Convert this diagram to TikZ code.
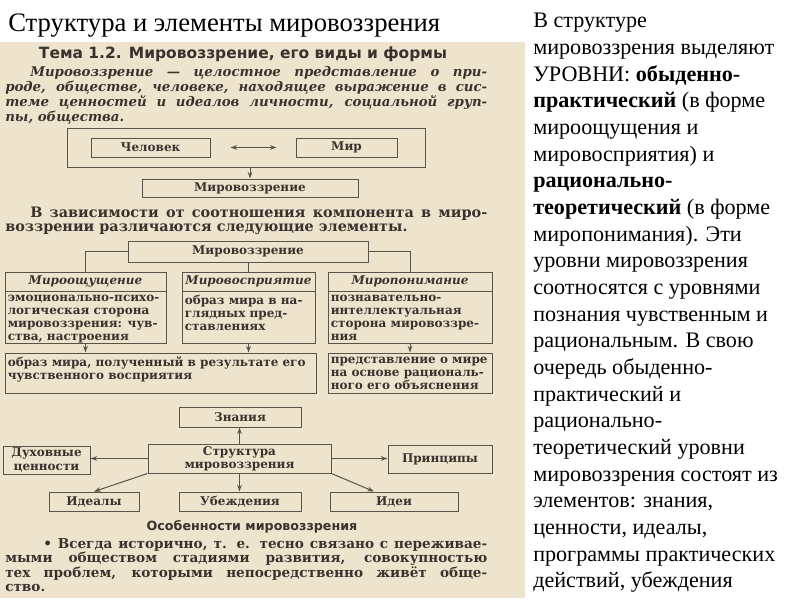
\documentclass[tikz,border=0pt]{standalone}
\usepackage{fontspec}
\setmainfont{Liberation Serif}
\newfontfamily\scanserif{DejaVu Serif}
\newfontfamily\scansans{DejaVu Sans}
\usetikzlibrary{positioning, arrows.meta}
\newdimen\px \px=0.75pt
\definecolor{paper}{RGB}{238, 228, 206}
\definecolor{ink}{RGB}{58, 50, 44}
\definecolor{rule}{RGB}{92, 82, 74}
\tikzstyle{arrow} = [rule, -{Stealth[length=5pt, width=3.5pt]}, line width=0.75pt]
\tikzstyle{darrow} = [rule, {Stealth[length=5pt, width=3.5pt]}-{Stealth[length=5pt, width=3.5pt]}, line width=0.75pt]
\tikzstyle{connector} = [rule, -, line width=0.75pt]
\tikzstyle{scantext} = [anchor=north west, inner sep=0, text width=482\px, align=justify, text=ink]
\tikzstyle{bodytext} = [anchor=north west, inner sep=0, align=left, text=ink,
  font=\scanserif\bfseries\fontsize{9pt}{9.75pt}\selectfont]
\newcommand{\tikzboxnode}[2]{\node[
  draw=rule, line width=0.75pt, rectangle, minimum width=#1\px, minimum height=#2\px, inner sep=0,
  align=center, text=ink, font=\scanserif\bfseries\fontsize{9pt}{10pt}\selectfont
]}

\begin{document}
\begin{tikzpicture}[x=0.75pt, y=-0.75pt]
    \useasboundingbox (0,0) rectangle (800,600);
    % page
    \fill[white] (0,0) rectangle (800,600);
    \fill[paper] (0,42) rectangle (525,598);

    % title and notes
    \node[anchor=base west, inner sep=0, font=\fontsize{20pt}{22pt}\selectfont] (title) at (8,31)
      {Структура и элементы мировоззрения};
    \node[anchor=north west, inner sep=0, align=left, font=\fontsize{16.6pt}{20pt}\selectfont] (levels) at (533,13)
      {В структуре\\
       мировоззрения выделяют\\
       УРОВНИ: \textbf{обыденно-}\\
       \textbf{практический} (в форме\\
       мироощущения и\\
       мировосприятия) и\\
       \textbf{рационально-}\\
       \textbf{теоретический} (в форме\\
       миропонимания). Эти\\
       уровни мировоззрения\\
       соотносятся с уровнями\\
       познания чувственным и\\
       рациональным. В свою\\
       очередь обыденно-\\
       практический и\\
       рационально-\\
       теоретический уровни\\
       мировоззрения состоят из\\
       элементов: знания,\\
       ценности, идеалы,\\
       программы практических\\
       действий, убеждения};

    % scan: definition
    \node[text=ink, font=\scansans\bfseries\fontsize{11.6pt}{13pt}\selectfont] (topic) at (243,54)
      {Тема 1.2. Мировоззрение, его виды и формы};
    \node[scantext, font=\scanserif\bfseries\itshape\fontsize{10pt}{11.25pt}\selectfont] (defn) at (5,66)
      {\hspace*{25\px}Мировоззрение — целостное представление о при-\linebreak
       роде, обществе, человеке, находящее выражение в сис-\linebreak
       теме ценностей и идеалов личности, социальной груп-\linebreak
       пы, общества.};

    % scan: man and world
    \tikzboxnode{358}{39} at (246,147.5) (pair)  {};
    \tikzboxnode{119}{19} at (150.5,147.5) (man) {Человек};
    \tikzboxnode{101}{19} at (346.5,147.5) (world) {Мир};
    \tikzboxnode{216}{18} at (250,188) (view) {Мировоззрение};
    \draw[darrow, shorten <=20\px, shorten >=19\px] (man) -- (world);
    \draw[arrow] (pair.south -| view.north) -- (view.north);

    % scan: components
    \node[scantext, font=\scanserif\bfseries\fontsize{10.8pt}{10pt}\selectfont] (intro) at (5,207)
      {\hspace*{25\px}В зависимости от соотношения компонента в миро-\linebreak
       воззрении различаются следующие элементы.};
    \tikzboxnode{240}{21} at (248,251.5) (view2) {Мировоззрение};
    \tikzboxnode{161}{19} at (85.5,281.5) (feelhead) {\itshape Мироощущение};
    \tikzboxnode{161}{52} at (85.5,317)   (feelbody) {};
    \tikzboxnode{133}{19} at (248.5,281.5) (perchead) {\itshape Мировосприятие};
    \tikzboxnode{133}{52} at (248.5,317)   (percbody) {};
    \tikzboxnode{164}{19} at (410,281.5) (undhead) {\itshape Миропонимание};
    \tikzboxnode{164}{52} at (410,317)   (undbody) {};
    \node[bodytext, below right=4\px and 3\px of feelbody.north west] (feeltext)
      {эмоционально-психо-\\логическая сторона\\мировоззрения: чув-\\ства, настроения};
    \node[bodytext, below right=4\px and 3\px of percbody.north west] (perctext)
      {образ мира в на-\\глядных пред-\\ставлениях};
    \node[bodytext, below right=4\px and 3\px of undbody.north west] (undtext)
      {познавательно-\\интеллектуальная\\сторона мировоззре-\\ния};
    \tikzboxnode{311}{40} at (160.5,373) (sense) {};
    \tikzboxnode{164}{40} at (410,373)   (reason) {};
    \node[bodytext, below right=4\px and 3\px of sense.north west] (sensetext)
      {образ мира, полученный в результате его\\чувственного восприятия};
    \node[bodytext, below right=4\px and 3\px of reason.north west] (reasontext)
      {представление о мире\\на основе рациональ-\\ного его объяснения};

    \draw[connector] (view2.west) -| (feelhead.north);
    \draw[connector] (view2.south) -- (view2.south |- perchead.north);
    \draw[connector] (view2.east) -| (undhead.north);
    \draw[arrow] (feelbody.south) -- (feelbody.south |- sense.north);
    \draw[arrow] (percbody.south) -- (percbody.south |- sense.north);
    \draw[arrow] (undbody.south) -- (reason.north);

    % scan: structure
    \tikzboxnode{122}{20} at (240,417)   (know)    {Знания};
    \tikzboxnode{183}{29} at (239.5,458.5) (struct) {Структура\\мировоззрения};
    \tikzboxnode{87}{28}  at (46.5,460)  (values)  {Духовные\\ценности};
    \tikzboxnode{104}{28} at (440,459)   (princ)   {Принципы};
    \tikzboxnode{90}{19}  at (94,501.5)  (ideals)  {Идеалы};
    \tikzboxnode{122}{19} at (240,501.5) (beliefs) {Убеждения};
    \tikzboxnode{128}{19} at (394,501.5) (ideas)   {Идеи};

    \draw[arrow] (struct.north) -- (struct.north |- know.south);
    \draw[arrow] (struct.west) -- (struct.west -| values.east);
    \draw[arrow] (struct.east) -- (struct.east -| princ.west);
    \draw[arrow] (struct.south west) -- (ideals.north);
    \draw[arrow] (struct.south) -- (struct.south |- beliefs.north);
    \draw[arrow] (struct.south east) -- ([xshift=-20\px]ideas.north);

    % scan: features
    \node[text=ink, font=\scansans\bfseries\fontsize{9.5pt}{11pt}\selectfont] (feat) at (252,527)
      {Особенности мировоззрения};
    \node[scantext, font=\scanserif\bfseries\fontsize{10.2pt}{10.9pt}\selectfont] (hist) at (5,538)
      {\hspace*{38\px}• Всегда исторично, т. е. тесно связано с переживае-\linebreak
       мыми обществом стадиями развития, совокупностью\linebreak
       тех проблем, которыми непосредственно живёт обще-\linebreak
       ство.};
\end{tikzpicture}
\end{document}
